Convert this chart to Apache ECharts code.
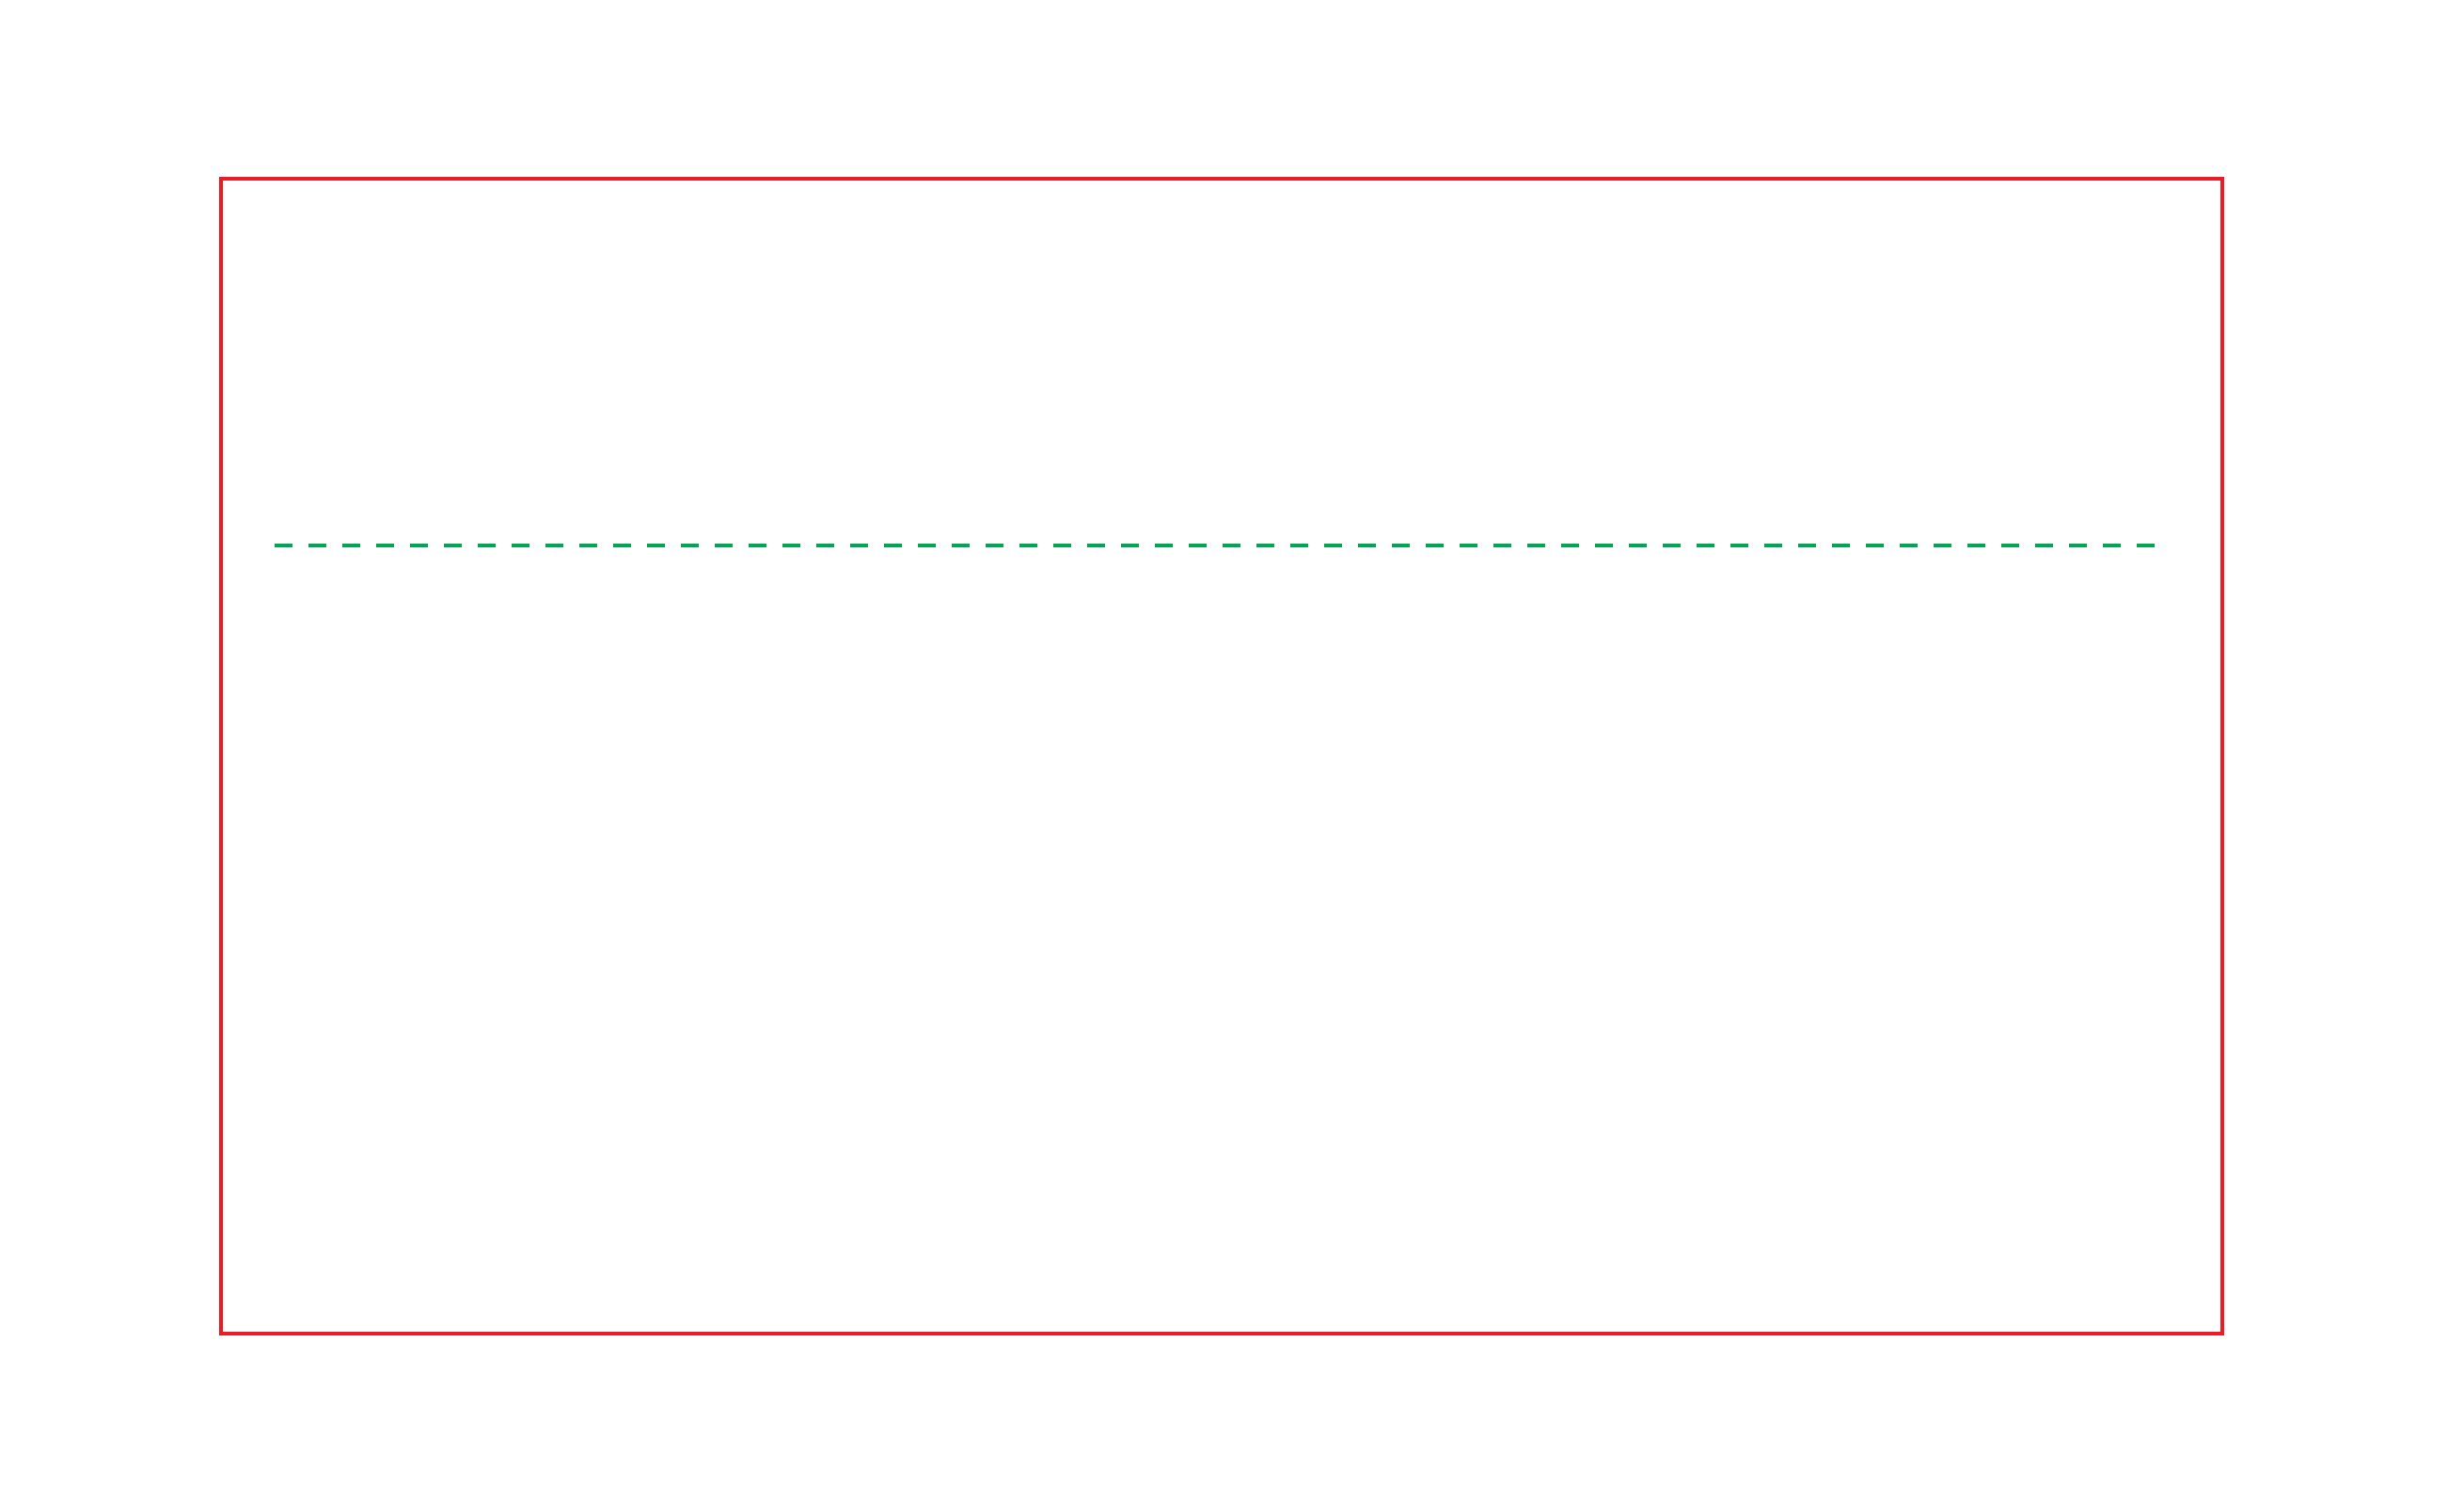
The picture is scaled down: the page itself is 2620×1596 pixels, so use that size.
<!DOCTYPE html>
<html>
<head>
<meta charset="utf-8">
<script src="https://cdn.jsdelivr.net/npm/echarts@6/dist/echarts.min.js"></script>
<style>
html, body { margin: 0; padding: 0; background: #ffffff; }
#chart { width: 2620px; height: 1596px; }
</style>
</head>
<body>
<div id="chart"></div>
<script>
// Data: one horizontal dashed level line
const lineX = [0, 100];
const lineY = [0.6824, 0.6824];
const xRange = [-2.85, 103.55];
const yRange = [0, 1];

const chart = echarts.init(document.getElementById('chart'), null, { renderer: 'canvas' });
const pts = lineX.map((x, i) => [x, lineY[i]]);

chart.setOption({
  animation: false,
  backgroundColor: '#ffffff',
  grid: {
    show: true,
    left: 235, top: 190, width: 2128, height: 1228,
    borderColor: '#ED1C24',
    borderWidth: 4,
    backgroundColor: 'transparent',
    containLabel: false
  },
  xAxis: {
    type: 'value', min: xRange[0], max: xRange[1],
    axisLine: { show: false }, axisTick: { show: false },
    axisLabel: { show: false }, splitLine: { show: false }
  },
  yAxis: {
    type: 'value', min: yRange[0], max: yRange[1],
    axisLine: { show: false }, axisTick: { show: false },
    axisLabel: { show: false }, splitLine: { show: false }
  },
  series: [{
    type: 'line',
    data: pts,
    showSymbol: false,
    symbol: 'none',
    lineStyle: { color: '#00A651', width: 4, type: [19, 17] }
  }]
});
</script>
</body>
</html>
